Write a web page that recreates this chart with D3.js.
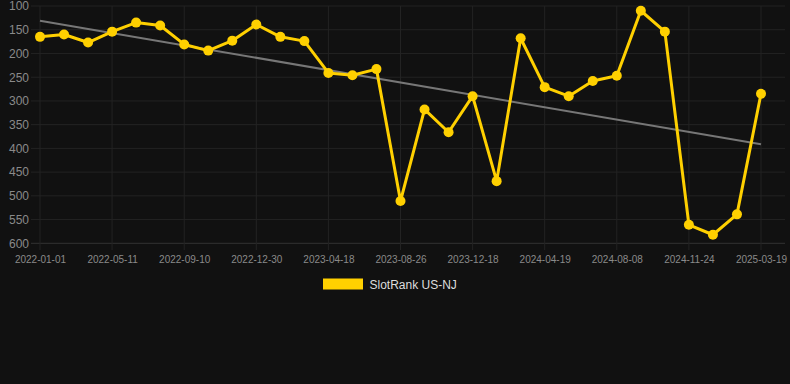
<!DOCTYPE html>
<html><head><meta charset="utf-8">
<script src="https://cdn.jsdelivr.net/npm/d3@7/dist/d3.min.js"></script>
<style>html,body{margin:0;padding:0;background:#111111;}svg{display:block;}</style>
</head><body>
<svg id="c" width="790" height="384"></svg>
<script>
const dates = ["2022-01-01","2022-02-13","2022-03-28","2022-05-11","2022-06-21","2022-07-31","2022-09-10","2022-10-17","2022-11-23","2022-12-30","2023-02-06","2023-03-13","2023-04-18","2023-06-01","2023-07-14","2023-08-26","2023-10-03","2023-11-10","2023-12-18","2024-01-29","2024-03-09","2024-04-19","2024-05-26","2024-07-01","2024-08-08","2024-09-21","2024-10-31","2024-11-24","2025-01-03","2025-02-10","2025-03-19"];
const ranks = [165,160,177,154,135,141,181,194,173,139,165,174,241,246,233,511,318,366,290,469,168,271,290,258,247,110,154,561,582,539,285];
const yTicks = [100,150,200,250,300,350,400,450,500,550,600];
const seriesName = "SlotRank US-NJ";

const svg = d3.select("#c");
const x = d3.scalePoint().domain(dates).range([40, 761]);
const y = d3.scaleLinear().domain([100, 600]).range([6, 243.3]);
const font = "Liberation Sans, Arial, Helvetica, sans-serif";

// horizontal grid
svg.append("g").selectAll("line").data(yTicks).join("line")
  .attr("x1", 31).attr("x2", 785)
  .attr("y1", d => y(d)).attr("y2", d => y(d))
  .attr("stroke", d => d === 600 ? "#333" : "#232323").attr("stroke-width", 1);

// vertical grid at labelled ticks
const labelled = dates.filter((d, i) => i % 3 === 0);
svg.append("g").selectAll("line").data(labelled).join("line")
  .attr("x1", d => x(d)).attr("x2", d => x(d))
  .attr("y1", 6).attr("y2", 250)
  .attr("stroke", "#232323").attr("stroke-width", 1);

// y axis labels
const yAxis = d3.axisLeft(y).tickValues(yTicks).tickSize(0).tickPadding(0);
const gy = svg.append("g").attr("transform", "translate(29,0)").call(yAxis);
gy.select(".domain").remove();
gy.selectAll("text").attr("fill", "#8a8a8a").attr("font-size", 12).attr("font-family", font);

// x axis labels
const xAxis = d3.axisBottom(x).tickValues(labelled).tickSize(0).tickPadding(0);
const gx = svg.append("g").attr("transform", "translate(0,255.5)").call(xAxis);
gx.select(".domain").remove();
gx.selectAll("text").attr("fill", "#8a8a8a").attr("font-size", 10).attr("font-family", font).attr("dy", "0.71em");

// trend line (linear regression)
const n = ranks.length;
const xs = d3.range(n);
const mx = d3.mean(xs), my = d3.mean(ranks);
const slope = d3.sum(xs, i => (i - mx) * (ranks[i] - my)) / d3.sum(xs, i => (i - mx) ** 2);
const icpt = my - slope * mx;
svg.append("line")
  .attr("x1", x(dates[0])).attr("y1", y(icpt))
  .attr("x2", x(dates[n - 1])).attr("y2", y(icpt + slope * (n - 1)))
  .attr("stroke", "#777").attr("stroke-width", 2);

// series line
const line = d3.line().x((d, i) => x(dates[i])).y(d => y(d));
svg.append("path").datum(ranks).attr("d", line)
  .attr("fill", "none").attr("stroke", "#FFD000").attr("stroke-width", 3).attr("stroke-linejoin", "round");
svg.append("g").selectAll("circle").data(ranks).join("circle")
  .attr("cx", (d, i) => x(dates[i])).attr("cy", d => y(d)).attr("r", 5)
  .attr("fill", "#FFD000");

// legend
svg.append("rect").attr("x", 323).attr("y", 278.5).attr("width", 40).attr("height", 11).attr("fill", "#FFD000");
svg.append("text").attr("x", 369.5).attr("y", 288.5).text(seriesName)
  .attr("fill", "#dddddd").attr("font-size", 12).attr("font-family", font);
</script>
</body></html>
